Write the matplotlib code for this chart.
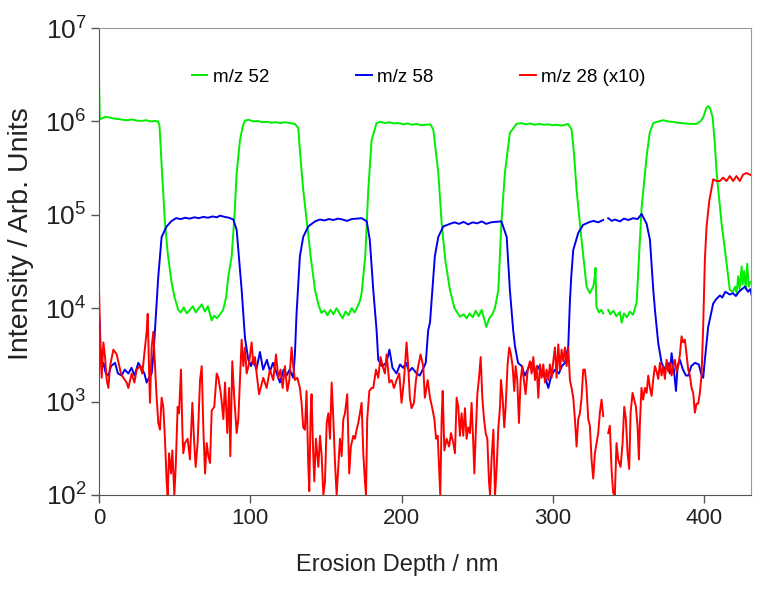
"""SIMS depth profile: m/z 52, m/z 58 and m/z 28 (x10) versus erosion depth."""

import matplotlib

matplotlib.use("Agg")
import matplotlib.pyplot as plt
from matplotlib.ticker import LogLocator, NullLocator

plt.rcParams["font.family"] = ["Liberation Sans", "DejaVu Sans"]

NAN = float("nan")

# ---- m/z 52 (green) ----
green_depth = [
    0, 0.5, 2, 4, 7, 10, 13, 16, 19, 22, 25, 28, 31, 34, 37, 39,
    40, 41.5, 43.6, 45.5, 48, 50, 52.4, 54, 56, 58, 60, 62, 64, 66, 68, 70,
    72, 74.5, 76, 78, 80, 82, 84, 85.5, 87.7, 89.5, 91, 93.2, 95, 96.5, 99,
    102, 105, 108, 111, 114, 117, 120, 123, 126, 129.5, 131.7, 133, 135, 138,
    140, 142.8, 145, 147, 149, 151, 153, 155, 157, 159, 161, 163, 165, 167,
    169, 171, 172.5, 173.6, 176, 178, 180.2, 183.5, 186, 189, 192, 195, 198,
    201, 204, 207, 210, 213, 216, 219, 221, 222.5, 224.3, 226.5, 229, 232,
    235, 238.6, 241, 243, 245, 247, 249, 251, 253, 256, 258, 260, 261.7, 264,
    266, 268.3, 271.6, 276, 279, 282, 285, 288, 291, 294, 297, 300, 303, 306,
    308, 310, 312.4, 314, 315.7, 319, 322.3, 324.5, 326.7, 327.8, 328.2,
    328.8, 330.5, 332, 333.3, 335, 336.6, 338, 340, 342, 344.3, 345.5, 347,
    349, 351, 353, 355.4, 357, 358.7, 362, 364, 366.4, 370, 373, 376, 379,
    382, 385, 388, 391, 395, 397.5, 399.4, 401.5, 402.7, 404, 405.6, 407,
    408.3, 411.5, 414.8, 417, 419, 420.5, 421.5, 422.5, 423.5, 424.8, 425.5,
    426.5, 427.5, 428.5, 429.5, 430.5,
]
green_counts = [
    2.9e6, 1.05e6, 1.08e6, 1.12e6, 1.10e6, 1.07e6, 1.06e6, 1.04e6, 1.03e6,
    1.05e6, 1.02e6, 1.01e6, 1.03e6, 1.00e6, 1.01e6, 1.00e6,
    9.0e5, 3.2e5, 8.2e4, 3.8e4, 1.87e4, 1.3e4, 9.6e3, 9.0e3, 1.02e4, 8.8e3,
    9.5e3, 1.05e4, 9.0e3, 1.0e4, 1.1e4, 9.2e3,
    1.05e4, 7.4e3, 8.3e3, 7.8e3, 8.6e3, 9.5e3, 1.3e4, 2.2e4, 3.6e4, 9.5e4,
    2.8e5, 6.3e5, 8.8e5, 1.02e6, 1.04e6,
    1.0e6, 1.01e6, 9.8e5, 9.9e5, 9.7e5, 9.8e5, 9.6e5, 9.8e5, 9.6e5, 9.4e5,
    8.5e5, 4.5e5, 1.84e5, 6.9e4,
    3.5e4, 1.57e4, 1.1e4, 8.9e3, 9.5e3, 8.4e3, 9.6e3, 8.6e3, 1.0e4, 8.8e3,
    7.8e3, 9.2e3, 8.4e3, 1.0e4,
    9.0e3, 1.05e4, 1.2e4, 1.45e4, 3.6e4, 1.84e5, 6.3e5, 9.6e5, 9.9e5, 9.6e5,
    9.8e5, 9.5e5, 9.6e5,
    9.3e5, 9.5e5, 9.2e5, 9.4e5, 9.1e5, 9.2e5, 9.3e5, 8.2e5, 5.0e5, 2.8e5,
    8.2e4, 3.2e4, 1.57e4,
    1.0e4, 8.1e3, 8.6e3, 7.8e3, 8.8e3, 8.0e3, 9.4e3, 8.2e3, 9.6e3, 6.3e3,
    7.8e3, 8.6e3, 1.0e4, 1.57e4,
    8.2e4, 2.8e5, 7.5e5, 9.4e5, 9.6e5, 9.3e5, 9.5e5, 9.2e5, 9.4e5, 9.2e5,
    9.3e5, 9.1e5, 9.2e5, 9.0e5,
    9.2e5, 9.4e5, 8.2e5, 4.5e5, 1.84e5, 5.4e4, 1.7e4, 1.45e4, 1.7e4, 2.2e4,
    2.7e4,
    1.04e4, 9.0e3, 9.6e3, 8.8e3, NAN, 9.6e3, 8.6e3, 9.4e3, 8.2e3, 9.1e3,
    7.0e3, 8.8e3,
    8.0e3, 9.2e3, 8.5e3, 1.15e4, 3.6e4, 1.2e5, 4.2e5, 7.5e5, 9.6e5, 1.0e6,
    1.03e6, 1.0e6, 9.9e5,
    9.7e5, 9.6e5, 9.5e5, 9.4e5, 9.4e5, 1.0e6, 1.1e6, 1.4e6, 1.46e6, 1.38e6,
    1.11e6, 6.0e5,
    2.8e5, 8.2e4, 3.1e4, 1.57e4, 1.5e4, 1.7e4, 1.45e4, 2.2e4, 1.6e4, 2.8e4,
    1.8e4,
    2.5e4, 1.6e4, 3.0e4, 1.7e4, 1.9e4,
]

# ---- m/z 58 (blue) ----
blue_depth = [
    0, 0.5, 1, 2, 3, 4.5, 6.2, 8, 10.6, 12.5, 15, 17, 19.4, 21.5, 23.5, 26,
    28, 30, 31.5, 33, 34.8, 36, 37, 39.2, 41.4, 44.7, 48, 51, 54, 57, 60, 63,
    66, 69, 72, 75, 78, 80, 83, 86, 88.8, 91, 94.3, 96.5, 98.7, 100.5, 102,
    104, 106.4, 108.5, 111, 113, 115, 117.5, 119.6, 122, 124, 126, 128.4,
    129.5, 130.6, 132.8, 135, 138.3, 142.8, 146, 149, 152, 155, 158, 161, 164,
    167, 170, 173.6, 177, 179, 181.3, 183.5, 184.6, 187, 190, 192, 194, 196.7,
    199, 201, 203, 205, 207, 210, 212, 214, 216, 217.6, 218.8, 222, 224.3,
    227.6, 232, 235, 238, 241, 244, 247, 250, 253, 256, 259, 262, 266, 269.5,
    271.6, 273.8, 275, 277, 279.4, 281.6, 284, 286, 288, 290, 292.6, 295, 297,
    299, 301.4, 304, 306, 308, 310.2, 311.3, 312.2, 313.5, 316.8, 320, 324.5,
    327, 330, 333.3, 335, 336.6, 339, 341, 344.4, 347, 350, 353, 356, 358.7,
    362, 364.2, 366.4, 367.5, 369.7, 371.9, 374, 376, 377.4, 378.5, 380,
    381.4, 382.5, 384, 386, 388, 389.5, 391.5, 394, 396.5, 398, 399.4, 400.5,
    402.7, 406, 408, 410.5, 412, 414, 417, 419, 421, 423, 425, 427, 429,
    430.5, 431.5,
]
blue_counts = [
    8.5e3, 7.0e3, 3.9e3, 2.3e3, 2.6e3, 2.0e3, 1.9e3, 2.4e3, 2.6e3, 2.0e3,
    1.9e3, 2.2e3, 2.0e3, 2.3e3, 1.9e3, 2.6e3,
    2.3e3, 2.0e3, 1.6e3, 1.8e3, 2.0e3, 3.2e3, 5.8e3, 2.2e4, 5.8e4, 7.5e4,
    8.6e4, 9.2e4, 9.0e4, 9.3e4, 9.1e4, 9.4e4,
    9.2e4, 9.5e4, 9.3e4, 9.6e4, 9.4e4, 9.8e4, 9.5e4, 9.3e4, 8.9e4, 6.9e4,
    1.57e4, 4.8e3, 2.8e3, 2.4e3, 2.9e3,
    2.2e3, 3.4e3, 2.2e3, 2.8e3, 2.1e3, 2.6e3, 2.0e3, 1.6e3, 2.2e3, 1.9e3,
    2.2e3, 1.8e3,
    3.2e3, 8.8e3, 3.6e4, 5.8e4, 7.5e4, 8.5e4, 8.9e4, 8.7e4, 9.0e4, 8.8e4,
    9.1e4, 8.9e4, 8.6e4,
    9.0e4, 9.1e4, 9.2e4, 8.5e4, 5.4e4, 1.57e4, 5.8e3, 2.8e3, 2.4e3, 2.6e3,
    3.6e3, 2.3e3, 2.0e3,
    2.5e3, 2.3e3, 2.6e3, 2.1e3, 2.3e3, 2.0e3, 1.9e3, 2.2e3, 2.6e3, 5.8e3,
    7.0e3, 3.6e4, 5.8e4,
    7.5e4, 8.0e4, 8.3e4, 8.0e4, 8.4e4, 7.9e4, 8.3e4, 8.1e4, 8.5e4, 8.0e4,
    8.3e4, 8.4e4, 8.5e4, 5.8e4,
    1.57e4, 5.8e3, 3.9e3, 2.6e3, 2.4e3, 1.9e3, 2.3e3, 2.6e3, 2.1e3, 2.4e3,
    2.0e3, 1.8e3, 1.4e3,
    1.9e3, 2.2e3, 2.0e3, 2.4e3, 2.6e3, 3.9e3, 1.2e4, 2.2e4, 4.2e4, 6.4e4,
    7.8e4, 8.4e4,
    8.6e4, 8.3e4, 8.8e4, NAN, 9.2e4, 8.6e4, 8.9e4, 8.5e4, 9.1e4, 8.8e4,
    9.2e4, 9.0e4, 1.02e5,
    8.0e4, 5.4e4, 1.57e4, 9.6e3, 4.2e3, 2.6e3, 2.2e3, 2.6e3, 2.0e3, 3.3e3,
    2.2e3,
    1.3e3, 2.4e3, 2.8e3, 2.2e3, 1.9e3, 1.9e3, 2.4e3, 2.6e3, 2.5e3, 2.0e3,
    1.8e3, 2.8e3,
    6.3e3, 1.12e4, 1.25e4, 1.37e4, 1.3e4, 1.5e4, 1.4e4, 1.45e4, 1.35e4,
    1.5e4, 1.6e4, 1.7e4, 1.5e4,
    1.6e4, 1.37e4,
]

# ---- m/z 28 x10 (red) ----
red_depth = [
    0, 0.4, 0.7, 1.8, 2.9, 4.0, 5.1, 6.2, 7.3, 9.5, 11.7, 13.2, 14.5, 16.1,
    18.3, 19.4, 21.6, 23.4, 24.9, 27.1, 28.6, 30.4, 31.5, 32.2, 33.0, 33.7,
    34.8, 35.9, 37.0, 38.1, 39.2, 40.3, 41.4, 42.5, 43.6, 44.7, 45.4, 46.3,
    47.6, 48.5, 49.8, 50.7, 52.0, 52.9, 54.2, 55.1, 55.7, 56.8, 58.6, 60.1,
    61.7, 62.8, 63.9, 65.2, 66.8, 67.9, 69.0, 70.1, 71.2, 72.3, 73.4, 74.5,
    76.2, 77.8, 78.9, 80.6, 82.2, 83.3, 84.8, 86.0, 86.8, 88.1, 89.4, 91.0,
    92.1, 93.2, 94.3, 95.4, 96.5, 97.6, 99.1, 100.9, 102.0, 103.1, 104.2,
    105.8, 108.6, 110.8, 113.0, 115.2, 117.0, 118.5, 120.0, 121.4, 122.9,
    124.5, 125.8, 127.3, 128.4, 129.5, 131.1, 132.8, 133.9, 135.0, 136.1,
    137.2, 138.3, 139.0, 139.9, 140.5, 141.6, 142.3, 143.4, 145.0, 146.1,
    147.2, 148.3, 149.4, 150.5, 151.6, 152.7, 153.8, 154.9, 156.0, 157.1,
    158.2, 159.3, 160.4, 161.5, 162.6, 164.1, 165.4, 166.5, 168.1, 169.2,
    170.3, 171.4, 172.5, 173.6, 174.7, 175.8, 176.5, 177.3, 178.7, 180.2,
    181.3, 183.1, 184.6, 186.1, 187.5, 189.0, 190.1, 191.9, 193.4, 195.0,
    196.7, 198.5, 200.0, 201.6, 203.3, 204.4, 205.5, 206.6, 208.2, 209.5,
    211.0, 212.6, 214.3, 215.4, 217.3, 218.8, 220.3, 221.7, 222.8, 223.9,
    224.8, 225.6, 226.5, 227.2, 228.3, 229.8, 231.4, 232.7, 234.2, 235.3,
    236.4, 237.5, 238.6, 239.7, 240.8, 241.9, 243.0, 244.1, 245.2, 246.3,
    247.4, 248.1, 249.0, 250.1, 251.2, 252.3, 253.4, 254.5, 255.6, 256.7,
    257.8, 258.5, 259.6, 260.7, 261.8, 262.9, 264.0, 265.1, 265.7, 266.8,
    267.9, 268.8, 270.1, 271.2, 272.3, 273.4, 274.5, 275.4, 276.5, 277.6,
    278.7, 279.8, 280.9, 282.0, 283.4, 284.9, 286.0, 287.1, 288.2, 289.3,
    290.4, 291.5, 292.6, 293.7, 294.8, 295.9, 297.0, 298.1, 299.2, 300.3,
    301.4, 302.5, 303.6, 304.7, 305.8, 306.9, 308.0, 309.1, 310.2, 311.3,
    312.4, 313.5, 314.6, 315.7, 316.8, 317.9, 319.0, 320.1, 321.2, 322.3,
    323.4, 324.5, 325.6, 326.7, 327.8, 328.9, 330.0, 331.1, 332.2, 333.3,
    335.0, 336.6, 337.7, 338.8, 339.9, 341.0, 342.1, 343.2, 344.8, 346.1,
    347.2, 348.3, 349.4, 350.5, 351.4, 352.7, 353.8, 354.9, 356.0, 356.9,
    357.5, 358.6, 359.7, 360.9, 362.0, 363.1, 364.2, 365.3, 366.4, 367.5,
    368.6, 369.7, 370.8, 371.9, 373.0, 374.1, 375.2, 376.3, 377.4, 378.5,
    379.6, 380.7, 381.8, 382.9, 384.0, 385.1, 386.2, 387.3, 388.4, 389.5,
    390.6, 391.7, 392.8, 393.9, 395.0, 396.1, 397.2, 398.3, 399.4, 400.5,
    401.6, 403.4, 404.9, 406.0, 408.2, 410.4, 412.6, 414.8, 417.0, 419.2,
    421.4, 423.6, 425.8, 428.0, 430.2, 432.0,
]
red_counts = [
    1.6e4, 8.7e3, 3.8e3, 1.8e3, 4.3e3, 3.0e3, 1.7e3, 1.4e3, 2.4e3, 3.6e3,
    3.2e3, 2.5e3, 2.0e3, 1.8e3,
    1.6e3, 1.4e3, 2.0e3, 1.6e3, 2.2e3, 2.4e3, 2.0e3, 3.8e3, 5.6e3, 8.7e3,
    2.5e3, 9.7e2,
    3.8e3, 5.6e3, 2.5e3, 1.1e3, 5.9e2, 5.0e2, 1.1e3, 8.8e2, 4.0e2, 1.4e2,
    1.0e2, 2.8e2,
    1.7e2, 3.0e2, 1.0e2, 2.0e2, 8.8e2, 7.5e2, 2.2e3, 5.0e2, 2.8e2, 3.6e2,
    4.0e2, 2.4e2,
    9.7e2, 4.0e2, 2.0e2, 3.6e2, 1.7e3, 2.4e3, 5.0e2, 1.7e2, 3.6e2, 2.6e2,
    2.2e2, 8.0e2,
    8.8e2, 2.0e3, 1.8e3, 1.2e3, 6.5e2, 1.6e3, 4.6e2, 1.4e3, 2.6e2, 2.7e3,
    1.1e3, 4.6e2,
    6.5e2, 1.7e3, 4.6e3, 2.4e3, 3.8e3, 2.0e3, 2.5e3, 4.3e3, 2.5e3, 3.0e3,
    2.0e3,
    1.2e3, 1.8e3, 1.4e3, 2.2e3, 1.7e3, 3.2e3, 1.8e3, 2.2e3, 1.4e3, 2.4e3,
    1.3e3, 1.7e3, 3.8e3, 2.4e3, 1.7e3, 1.8e3, 1.4e3, 9.7e2, 5.3e2, 5.0e2,
    1.3e3, 2.2e2, 1.1e2, 7.5e2, 1.2e3, 2.8e2, 1.4e2, 4.0e2, 2.0e2, 4.3e2,
    2.6e2, 1.0e2, 1.4e2, 5.9e2, 7.5e2, 4.0e2, 1.6e3, 6.5e2, 2.2e2, 1.0e2,
    2.0e2, 4.0e2, 2.6e2, 6.5e2, 7.5e2, 1.2e3, 1.7e2, 3.3e2, 4.3e2, 4.0e2,
    5.0e2, 5.9e2, 7.5e2, 9.7e2, 2.8e2, 1.4e2, 1.0e2, 6.5e2, 1.3e3, 1.4e3,
    1.4e3, 2.2e3, 1.8e3, 3.0e3, 2.4e3, 2.0e3, 3.2e3, 1.6e3, 1.7e3, 1.4e3,
    1.7e3, 2.0e3, 9.7e2, 1.7e3, 4.3e3, 2.4e3, 1.1e3, 8.5e2, 9.7e2, 1.7e3,
    2.4e3, 3.2e3, 2.4e3, 1.1e3, 1.7e3, 1.1e3, 8.5e2, 6.5e2, 4.0e2, 4.3e2,
    2.0e2, 1.0e2, 6.5e2, 1.3e3, 3.0e2, 4.0e2, 3.3e2, 4.6e2, 3.6e2, 2.8e2,
    1.1e3, 8.8e2, 4.3e2, 7.5e2, 4.3e2, 8.5e2, 4.0e2, 5.3e2, 4.6e2, 9.7e2,
    3.6e2, 1.7e2, 4.3e2, 1.2e3, 1.8e3, 3.0e3, 1.1e3, 6.5e2, 4.6e2, 4.0e2,
    1.4e2, 1.0e2, 2.6e2, 5.0e2, 1.0e2, 2.0e2, 5.3e2, 8.8e2, 1.7e3, 1.1e3,
    5.3e2, 8.8e2, 2.5e3, 3.8e3, 3.2e3, 2.4e3, 1.3e3, 2.4e3, 1.7e3, 5.9e2,
    1.7e3, 2.4e3, 1.7e3, 1.2e3, 2.2e3, 2.7e3, 2.0e3, 3.0e3, 1.7e3, 2.4e3,
    1.1e3, 2.5e3, 1.8e3, 2.5e3, 1.6e3, 2.2e3, 1.7e3, 2.5e3, 1.8e3, 2.7e3,
    3.8e3, 1.8e3, 4.1e3, 2.2e3, 3.6e3, 2.7e3, 3.8e3, 2.4e3, 3.8e3, 1.7e3,
    1.4e3, 1.1e3, 6.5e2, 3.3e2, 6.5e2, 7.5e2, 1.1e3, 2.2e3, 2.2e3, 1.4e3,
    6.5e2, 5.5e2, 2.4e2, 1.5e2, 2.8e2, 3.6e2, 4.6e2, 7.6e2, 1.05e3, 7.0e2,
    NAN, 4.6e2, 5.5e2, 1.9e2, 1.05e2, 1.0e2, 3.6e2, 2.4e2, 2.0e2, 3.6e2,
    8.8e2, 6.5e2, 2.8e2, 1.9e2, 7.6e2, 1.24e3, 1.05e3, 8.8e2, 5.5e2, 2.4e2,
    5.5e2, 1.4e3, 1.05e3, 1.4e3, 1.24e3, 1.9e3, 1.4e3, 1.15e3, 1.75e3, 2.4e3,
    2.1e3, 1.75e3, 2.6e3, 1.9e3, 2.4e3, 1.75e3, 2.8e3, 2.1e3, 2.6e3, 1.9e3,
    2.4e3, 2.8e3, 2.1e3, 2.4e3, 3.2e3, 5.0e3, 4.3e3, 4.6e3, 3.2e3, 2.2e3,
    1.9e3, 1.4e3, 1.24e3, 7.6e2, 9.5e2, 9.5e2, 1.24e3, 1.9e3, 6.4e3, 3.3e4,
    7.4e4, 1.4e5, 1.9e5, 2.4e5, 2.3e5, 2.3e5, 2.5e5, 2.3e5, 2.6e5, 2.3e5,
    2.6e5, 2.3e5, 2.7e5, 2.8e5, 2.7e5, 2.6e5,
]

X_TICKS = [0, 100, 200, 300, 400]


def main():
    fig = plt.figure(figsize=(7.68, 5.94), dpi=100)
    ax = fig.add_axes([99 / 768, 99 / 594, 652 / 768, 467 / 594])

    ax.plot(green_depth, green_counts, color="#00ee00", lw=1.4, label="m/z 52")
    ax.plot(blue_depth, blue_counts, color="#0000ee", lw=1.4, label="m/z 58")
    ax.plot(red_depth, red_counts, color="#ff0000", lw=1.4, label="m/z 28 (x10)")

    ax.set_yscale("log")
    ax.set_ylim(1e2, 1e7)
    ax.set_xlim(0, 431)
    ax.yaxis.set_major_locator(LogLocator(base=10, numticks=10))
    ax.yaxis.set_minor_locator(NullLocator())
    ax.set_xticks(X_TICKS)

    for side in ("left", "bottom"):
        ax.spines[side].set_color("#555555")
    for side in ("top", "right"):
        ax.spines[side].set_color("#999999")
    ax.tick_params(direction="out", length=6, width=1, color="#555555",
                   labelcolor="#222222")
    ax.tick_params(axis="x", labelsize=16, pad=3)
    ax.tick_params(axis="y", labelsize=19, pad=3)

    ax.set_xlabel("Erosion Depth / nm", fontsize=17, color="#222222")
    ax.xaxis.set_label_coords(0.457, -0.127)
    ax.set_ylabel("Intensity / Arb. Units", fontsize=20.5, color="#222222")
    ax.yaxis.set_label_coords(-0.1, 0.56)

    ax.legend(loc="center left", bbox_to_anchor=(0.116, 0.895), ncol=3,
              frameon=False, fontsize=13.5, handlelength=0.85,
              handletextpad=0.3, columnspacing=4.6)

    fig.savefig("out.png", dpi=100)
    plt.close(fig)


if __name__ == "__main__":
    main()
